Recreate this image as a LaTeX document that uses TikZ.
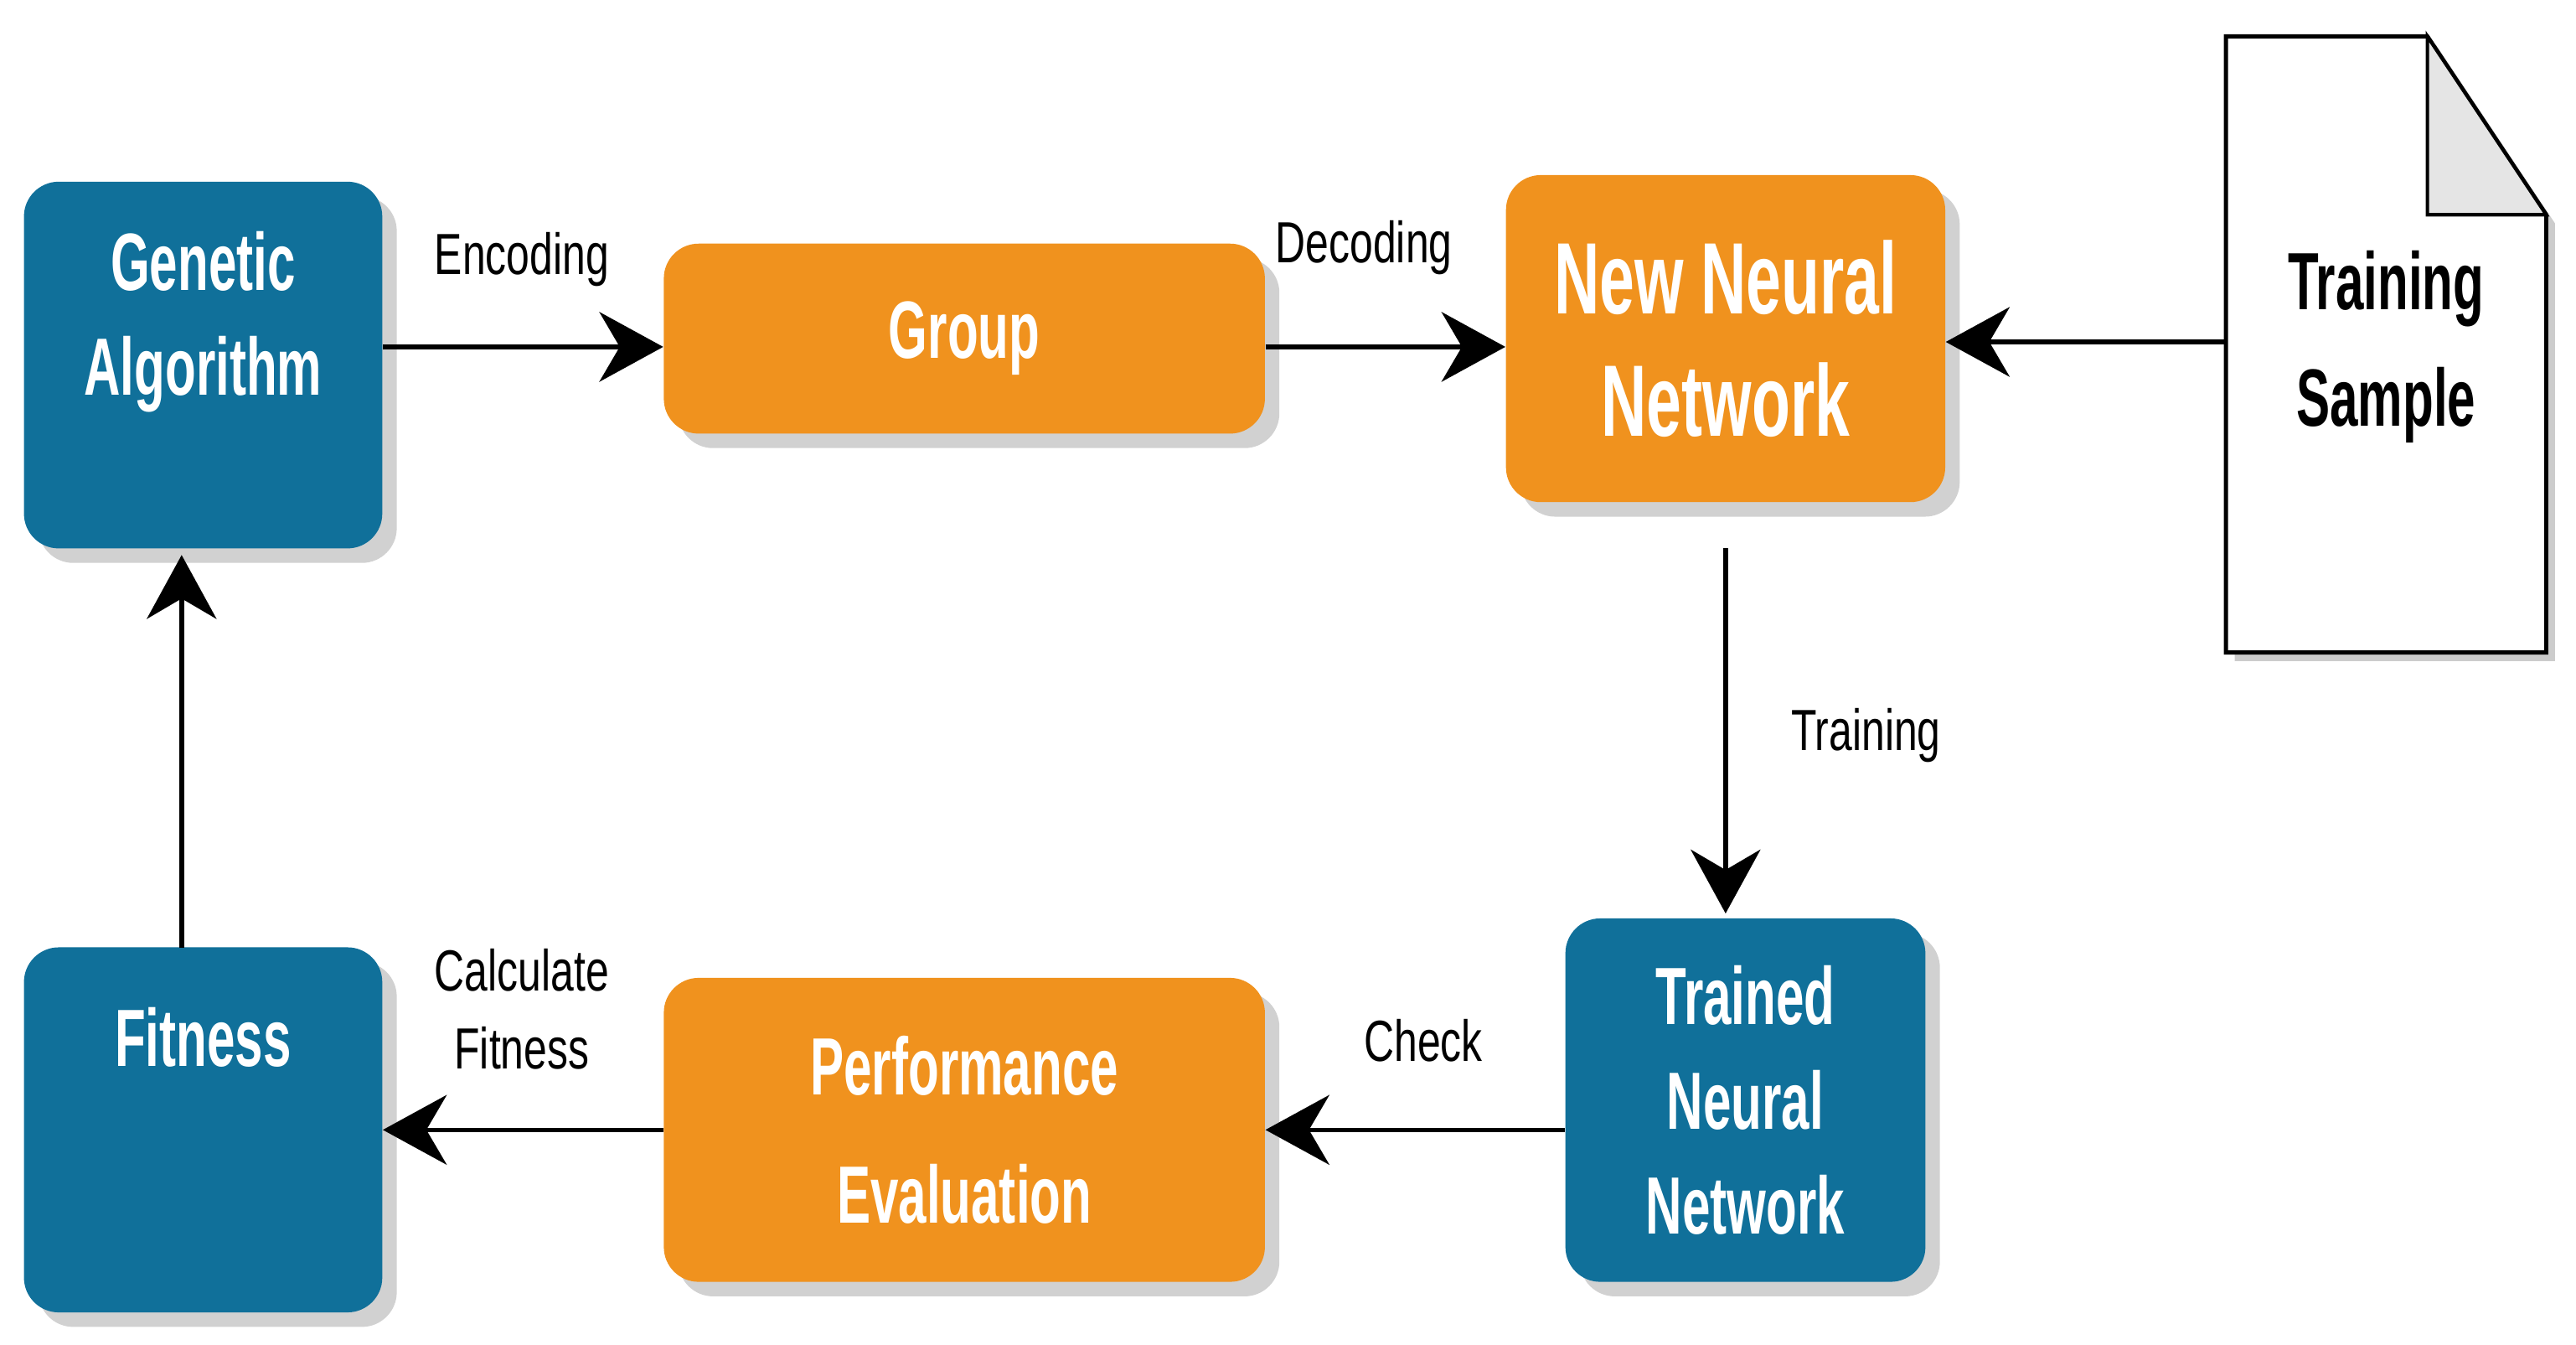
\documentclass[tikz,border=0pt]{standalone}
\usepackage{fontspec}
\setmainfont{Liberation Sans}
\newfontfamily\nodef{Liberation Sans}[FakeStretch=0.62]
\newfontfamily\labf{Liberation Sans}[FakeStretch=0.72]
\usetikzlibrary{arrows.meta,shadows}
\definecolor{bx}{HTML}{10709A}
\definecolor{ox}{HTML}{F0921E}
\begin{document}
\begin{tikzpicture}[x=0.02cm,y=-0.02cm,
 box/.style={rounded corners=12pt,draw=none,drop shadow={shadow xshift=5pt,shadow yshift=-5pt,fill=black!30,opacity=0.6},text=white,font=\nodef\bfseries\fontsize{28}{36}\selectfont,align=center,inner sep=0pt},
 lab/.style={font=\labf\fontsize{20}{27}\selectfont,align=center},
 arr/.style={line width=1.6pt,-{Stealth[length=22pt,width=24pt,inset=7pt]}}]
\useasboundingbox (0,0) rectangle (1560,814);
\node[box,fill=bx,minimum width=217*0.02cm,minimum height=222*0.02cm] (ga) at (123,221) {};
\node[white,font=\nodef\bfseries\fontsize{28}{36}\selectfont,align=center] (gat) at (123,195) {Genetic\\Algorithm};
\node[box,fill=ox,minimum width=364*0.02cm,minimum height=115*0.02cm] (gr) at (584,205) {Group};
\node[box,fill=ox,minimum width=266*0.02cm,minimum height=198*0.02cm,font=\nodef\bfseries\fontsize{35}{42}\selectfont] (nnn) at (1045,205) {New Neural\\Network};
\node[box,fill=bx,minimum width=218*0.02cm,minimum height=220*0.02cm] (tnn) at (1057,666) {Trained\\Neural\\Network};
\node[box,fill=ox,minimum width=364*0.02cm,minimum height=184*0.02cm,font=\nodef\bfseries\fontsize{28}{44}\selectfont] (pe) at (584,684) {Performance\\Evaluation};
\node[box,fill=bx,minimum width=217*0.02cm,minimum height=221*0.02cm] (fi) at (123,684) {};
\node[white,font=\nodef\bfseries\fontsize{28}{36}\selectfont] (fit) at (123,628) {Fitness};
% document
\draw[line width=1.4pt,fill=white,drop shadow={shadow xshift=3pt,shadow yshift=-3pt,fill=black!40}] (1348,22) -- (1470,22) -- (1542,130) -- (1542,395) -- (1348,395) -- cycle;
\draw[line width=1.2pt,fill=black!10] (1470,22) -- (1470,130) -- (1542,130) -- cycle;
\node[font=\nodef\bfseries\fontsize{28}{40}\selectfont,align=center] (ts) at (1445,210) {Training\\Sample};
\coordinate (tsl) at (1348,207);
\coordinate (nnnb) at (1045,332);
\coordinate (fitop) at (110,574);
\coordinate (gabot) at (110,336);
\draw[arr] (ga.east|-0,210) -- (gr.west|-0,210);
\draw[arr] (gr.east|-0,210) -- (nnn.west|-0,210);
\draw[arr] (tsl) -- (nnn.east|-tsl);
\draw[arr] (nnnb) -- (1045,553);
\draw[arr] (tnn.west|-0,684) -- (pe.east|-0,684);
\draw[arr] (pe.west) -- (fi.east|-pe.west);
\draw[arr] (fitop) -- (gabot);
\node[lab] (l1) at (316,157) {Encoding};
\node[lab] (l2) at (826,150) {Decoding};
\node[lab] (l3) at (1130,445) {Training};
\node[lab] (l4) at (862,630) {Check};
\node[lab] (l5) at (316,611) {Calculate\\Fitness};
\end{tikzpicture}
\end{document}
